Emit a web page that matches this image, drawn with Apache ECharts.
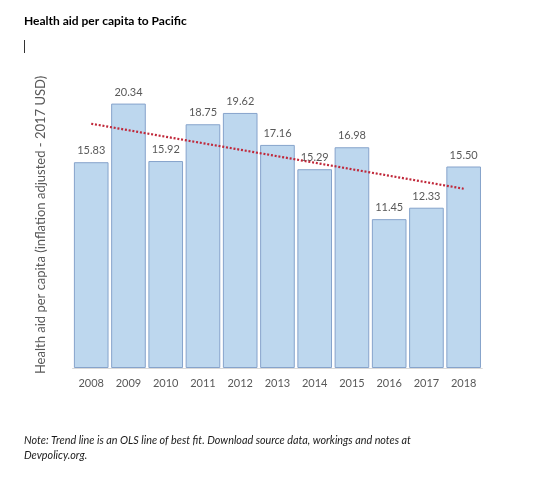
<!DOCTYPE html>
<html>
<head>
<meta charset="utf-8">
<script src="https://cdn.jsdelivr.net/npm/echarts@6/dist/echarts.min.js"></script>
<style>
  html, body { margin: 0; padding: 0; background: #ffffff; }
  #main { width: 546px; height: 500px; }
</style>
</head>
<body>
<div id="main"></div>
<script>
// data
var years = ['2008', '2009', '2010', '2011', '2012', '2013', '2014', '2015', '2016', '2017', '2018'];
var aidValues = [15.83, 20.34, 15.92, 18.75, 19.62, 17.16, 15.29, 16.98, 11.45, 12.33, 15.50];
// trend line ends (2008 and 2018)
var trendEnds = [18.79, 13.79];

var chart = echarts.init(document.getElementById('main'), null, { renderer: 'canvas' });

var trendData = years.map(function (y, i) {
  if (i === 0) return trendEnds[0];
  if (i === years.length - 1) return trendEnds[1];
  return null;
});

var font = 'Lato, "Open Sans", sans-serif';

var option = {
  backgroundColor: '#ffffff',
  animation: false,
  textStyle: { fontFamily: font },
  grid: { left: 72.6, width: 409.7, top: 82, height: 286 },
  xAxis: {
    type: 'category',
    data: years,
    axisLine: { show: true, lineStyle: { color: '#d9d9d9' } },
    axisTick: { show: false },
    axisLabel: { color: '#595959', fontSize: 11, margin: 10, fontFamily: font }
  },
  yAxis: {
    type: 'value',
    min: 0,
    max: 22,
    name: 'Health aid per capita (inflation adjusted - 2017 USD)',
    nameLocation: 'middle',
    nameGap: 25,
    nameTextStyle: { color: '#595959', fontSize: 13, fontFamily: font },
    axisLine: { show: false },
    axisTick: { show: false },
    axisLabel: { show: false },
    splitLine: { show: false }
  },
  series: [{
    type: 'bar',
    data: aidValues,
    barCategoryGap: '7%',
    itemStyle: { color: '#bdd7ee', borderColor: '#86a3cb', borderWidth: 1 },
    label: {
      show: true,
      position: 'top',
      distance: 6,
      color: '#595959',
      fontSize: 11,
      fontFamily: font,
      formatter: function (p) { return p.value.toFixed(2); }
    }
  }, {
    type: 'line',
    data: trendData,
    connectNulls: true,
    symbol: 'none',
    z: 5,
    lineStyle: { color: '#c0283a', width: 2.2, type: [2, 1.8] }
  }],
  graphic: [{
    type: 'text',
    left: 24,
    top: 15,
    style: {
      text: 'Health aid per capita to Pacific',
      fill: '#000000',
      font: 'bold 12px ' + font
    }
  }, {
    type: 'line',
    shape: { x1: 24.5, y1: 40, x2: 24.5, y2: 53 },
    style: { stroke: '#333333', lineWidth: 1 }
  }, {
    type: 'text',
    left: 24,
    top: 433,
    style: {
      text: 'Note: Trend line is an OLS line of best fit. Download source data, workings and notes at\nDevpolicy.org.',
      fill: '#1a1a1a',
      font: 'italic 10.8px ' + font,
      lineHeight: 15
    }
  }]
};

chart.setOption(option);
</script>
</body>
</html>
